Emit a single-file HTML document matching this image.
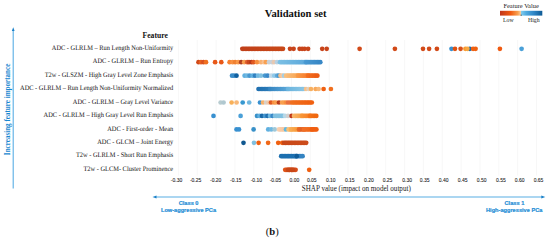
<!DOCTYPE html>
<html><head><meta charset="utf-8"><style>
html,body{margin:0;padding:0;background:#fff;width:550px;height:239px;overflow:hidden}
svg{display:block}
</style></head><body>
<svg width="550" height="239" viewBox="0 0 550 239">
<defs><linearGradient id="cb" x1="0" x2="1" y1="0" y2="0"><stop offset="0" stop-color="#c0361a"/><stop offset="0.25" stop-color="#f05a10"/><stop offset="0.42" stop-color="#f8a050"/><stop offset="0.5" stop-color="#f8d4a8"/><stop offset="0.5" stop-color="#80ccee"/><stop offset="0.62" stop-color="#50aade"/><stop offset="0.8" stop-color="#2f86c6"/><stop offset="1" stop-color="#0e5a94"/></linearGradient></defs>
<line x1="178.43" y1="40" x2="178.43" y2="175.5" stroke="#f2f2f2" stroke-width="0.6"/>
<line x1="197.28" y1="40" x2="197.28" y2="175.5" stroke="#f2f2f2" stroke-width="0.6"/>
<line x1="216.12" y1="40" x2="216.12" y2="175.5" stroke="#f2f2f2" stroke-width="0.6"/>
<line x1="234.97" y1="40" x2="234.97" y2="175.5" stroke="#f2f2f2" stroke-width="0.6"/>
<line x1="253.81" y1="40" x2="253.81" y2="175.5" stroke="#f2f2f2" stroke-width="0.6"/>
<line x1="272.65" y1="40" x2="272.65" y2="175.5" stroke="#f2f2f2" stroke-width="0.6"/>
<line x1="291.50" y1="40" x2="291.50" y2="175.5" stroke="#f2f2f2" stroke-width="0.6"/>
<line x1="310.35" y1="40" x2="310.35" y2="175.5" stroke="#f2f2f2" stroke-width="0.6"/>
<line x1="329.19" y1="40" x2="329.19" y2="175.5" stroke="#f2f2f2" stroke-width="0.6"/>
<line x1="348.03" y1="40" x2="348.03" y2="175.5" stroke="#f2f2f2" stroke-width="0.6"/>
<line x1="366.88" y1="40" x2="366.88" y2="175.5" stroke="#f2f2f2" stroke-width="0.6"/>
<line x1="385.73" y1="40" x2="385.73" y2="175.5" stroke="#f2f2f2" stroke-width="0.6"/>
<line x1="404.57" y1="40" x2="404.57" y2="175.5" stroke="#f2f2f2" stroke-width="0.6"/>
<line x1="423.41" y1="40" x2="423.41" y2="175.5" stroke="#f2f2f2" stroke-width="0.6"/>
<line x1="442.26" y1="40" x2="442.26" y2="175.5" stroke="#f2f2f2" stroke-width="0.6"/>
<line x1="461.11" y1="40" x2="461.11" y2="175.5" stroke="#f2f2f2" stroke-width="0.6"/>
<line x1="479.95" y1="40" x2="479.95" y2="175.5" stroke="#f2f2f2" stroke-width="0.6"/>
<line x1="498.80" y1="40" x2="498.80" y2="175.5" stroke="#f2f2f2" stroke-width="0.6"/>
<line x1="517.64" y1="40" x2="517.64" y2="175.5" stroke="#f2f2f2" stroke-width="0.6"/>
<line x1="536.49" y1="40" x2="536.49" y2="175.5" stroke="#f2f2f2" stroke-width="0.6"/>
<g>
<circle cx="242.30" cy="48.8" r="2.35" fill="#c0401a"/>
<circle cx="243.81" cy="48.8" r="2.35" fill="#c0401a"/>
<circle cx="245.31" cy="48.8" r="2.35" fill="#c1411a"/>
<circle cx="246.82" cy="48.8" r="2.35" fill="#c1411a"/>
<circle cx="248.33" cy="48.8" r="2.35" fill="#c1411a"/>
<circle cx="249.84" cy="48.8" r="2.35" fill="#c1411a"/>
<circle cx="251.34" cy="48.8" r="2.35" fill="#c2421a"/>
<circle cx="252.85" cy="48.8" r="2.35" fill="#c24219"/>
<circle cx="254.36" cy="48.8" r="2.35" fill="#c24219"/>
<circle cx="255.87" cy="48.8" r="2.35" fill="#c34319"/>
<circle cx="257.37" cy="48.8" r="2.35" fill="#c34319"/>
<circle cx="258.88" cy="48.8" r="2.35" fill="#c34319"/>
<circle cx="260.39" cy="48.8" r="2.35" fill="#c44419"/>
<circle cx="261.90" cy="48.8" r="2.35" fill="#c44419"/>
<circle cx="263.40" cy="48.8" r="2.35" fill="#c44419"/>
<circle cx="264.91" cy="48.8" r="2.35" fill="#c44419"/>
<circle cx="266.42" cy="48.8" r="2.35" fill="#c54519"/>
<circle cx="267.93" cy="48.8" r="2.35" fill="#c54519"/>
<circle cx="269.43" cy="48.8" r="2.35" fill="#c54519"/>
<circle cx="270.94" cy="48.8" r="2.35" fill="#c64619"/>
<circle cx="272.45" cy="48.8" r="2.35" fill="#c64619"/>
<circle cx="273.96" cy="48.8" r="2.35" fill="#c64618"/>
<circle cx="275.46" cy="48.8" r="2.35" fill="#c74718"/>
<circle cx="276.97" cy="48.8" r="2.35" fill="#c74718"/>
<circle cx="278.48" cy="48.8" r="2.35" fill="#c74718"/>
<circle cx="279.99" cy="48.8" r="2.35" fill="#c74718"/>
<circle cx="281.49" cy="48.8" r="2.35" fill="#c84818"/>
<circle cx="283.00" cy="48.8" r="2.35" fill="#c84818"/>
<circle cx="290.00" cy="48.8" r="2.35" fill="#c8441a"/>
<circle cx="293.60" cy="48.8" r="2.35" fill="#c8441a"/>
<circle cx="299.60" cy="48.8" r="2.35" fill="#c8441a"/>
<circle cx="302.10" cy="48.8" r="2.35" fill="#c8441a"/>
<circle cx="304.60" cy="48.8" r="2.35" fill="#c8441a"/>
<circle cx="308.10" cy="48.8" r="2.35" fill="#c8441a"/>
<circle cx="322.20" cy="48.8" r="2.35" fill="#c8441a"/>
<circle cx="326.70" cy="48.8" r="2.35" fill="#c8441a"/>
<circle cx="359.60" cy="48.8" r="2.35" fill="#d24a18"/>
<circle cx="394.90" cy="48.8" r="2.35" fill="#d24a18"/>
<circle cx="423.00" cy="48.8" r="2.35" fill="#d24a18"/>
<circle cx="429.10" cy="48.8" r="2.35" fill="#d24a18"/>
<circle cx="436.90" cy="48.8" r="2.35" fill="#d24a18"/>
<circle cx="451.50" cy="48.8" r="2.35" fill="#3890d0"/>
<circle cx="455.00" cy="48.8" r="2.35" fill="#e05010"/>
<circle cx="469.80" cy="48.8" r="2.35" fill="#1868a8"/>
<circle cx="460.60" cy="48.8" r="2.35" fill="#d85018"/>
<circle cx="465.40" cy="48.8" r="2.35" fill="#f89a30"/>
<circle cx="467.40" cy="48.8" r="2.35" fill="#f8a840"/>
<circle cx="473.10" cy="48.8" r="2.35" fill="#f06010"/>
<circle cx="475.60" cy="48.8" r="2.35" fill="#f06010"/>
<circle cx="499.90" cy="48.8" r="2.35" fill="#f05a10"/>
<circle cx="521.60" cy="48.8" r="2.35" fill="#4aa0d8"/>
<circle cx="198.50" cy="62.2" r="2.35" fill="#d04818"/>
<circle cx="201.00" cy="62.2" r="2.35" fill="#e86020"/>
<circle cx="203.50" cy="62.2" r="2.35" fill="#d85020"/>
<circle cx="206.00" cy="62.2" r="2.35" fill="#f07020"/>
<circle cx="215.10" cy="62.2" r="2.35" fill="#e85818"/>
<circle cx="221.30" cy="62.2" r="2.35" fill="#e85818"/>
<circle cx="229.60" cy="62.2" r="2.35" fill="#f88030"/>
<circle cx="232.60" cy="62.2" r="2.35" fill="#f89040"/>
<circle cx="235.20" cy="62.2" r="2.35" fill="#f08030"/>
<circle cx="238.20" cy="62.2" r="2.35" fill="#f89848"/>
<circle cx="241.20" cy="62.2" r="2.35" fill="#b04020"/>
<circle cx="244.20" cy="62.2" r="2.35" fill="#f8a050"/>
<circle cx="247.20" cy="62.2" r="2.35" fill="#e06030"/>
<circle cx="249.00" cy="62.2" r="2.35" fill="#c84820"/>
<circle cx="251.50" cy="62.2" r="2.35" fill="#b83818"/>
<circle cx="253.50" cy="62.2" r="2.35" fill="#e05820"/>
<circle cx="257.00" cy="62.2" r="2.35" fill="#f89040"/>
<circle cx="261.00" cy="62.2" r="2.35" fill="#f8b070"/>
<circle cx="264.00" cy="62.2" r="2.35" fill="#f8c090"/>
<circle cx="266.00" cy="62.2" r="2.35" fill="#f8a050"/>
<circle cx="269.00" cy="62.2" r="2.35" fill="#c8d0d8"/>
<circle cx="272.00" cy="62.2" r="2.35" fill="#c8d0d8"/>
<circle cx="274.00" cy="62.2" r="2.35" fill="#e8c8b0"/>
<circle cx="277.00" cy="62.2" r="2.35" fill="#b8d0e0"/>
<circle cx="280.00" cy="62.2" r="2.35" fill="#7cc0e4"/>
<circle cx="281.53" cy="62.2" r="2.35" fill="#7abfe4"/>
<circle cx="283.06" cy="62.2" r="2.35" fill="#78bde3"/>
<circle cx="284.59" cy="62.2" r="2.35" fill="#77bce3"/>
<circle cx="286.12" cy="62.2" r="2.35" fill="#75bbe2"/>
<circle cx="287.65" cy="62.2" r="2.35" fill="#73bae2"/>
<circle cx="289.18" cy="62.2" r="2.35" fill="#71b8e1"/>
<circle cx="290.71" cy="62.2" r="2.35" fill="#70b7e1"/>
<circle cx="292.24" cy="62.2" r="2.35" fill="#6eb6e0"/>
<circle cx="293.76" cy="62.2" r="2.35" fill="#6cb4e0"/>
<circle cx="295.29" cy="62.2" r="2.35" fill="#6ab3df"/>
<circle cx="296.82" cy="62.2" r="2.35" fill="#69b2df"/>
<circle cx="298.35" cy="62.2" r="2.35" fill="#67b0de"/>
<circle cx="299.88" cy="62.2" r="2.35" fill="#65afde"/>
<circle cx="301.41" cy="62.2" r="2.35" fill="#63aedd"/>
<circle cx="302.94" cy="62.2" r="2.35" fill="#62addd"/>
<circle cx="304.47" cy="62.2" r="2.35" fill="#60abdc"/>
<circle cx="306.00" cy="62.2" r="2.35" fill="#5eaadc"/>
<circle cx="306.00" cy="62.2" r="2.35" fill="#4a9ad2"/>
<circle cx="307.43" cy="62.2" r="2.35" fill="#4898d1"/>
<circle cx="308.86" cy="62.2" r="2.35" fill="#4696d0"/>
<circle cx="310.29" cy="62.2" r="2.35" fill="#4595ce"/>
<circle cx="311.72" cy="62.2" r="2.35" fill="#4393cd"/>
<circle cx="313.15" cy="62.2" r="2.35" fill="#4191cc"/>
<circle cx="314.58" cy="62.2" r="2.35" fill="#3f8fcb"/>
<circle cx="316.01" cy="62.2" r="2.35" fill="#3d8dca"/>
<circle cx="317.44" cy="62.2" r="2.35" fill="#3c8cc8"/>
<circle cx="318.87" cy="62.2" r="2.35" fill="#3a8ac7"/>
<circle cx="320.30" cy="62.2" r="2.35" fill="#3888c6"/>
<circle cx="232.00" cy="75.7" r="2.35" fill="#3a8cc8"/>
<circle cx="234.00" cy="75.7" r="2.35" fill="#3a8cc8"/>
<circle cx="236.50" cy="75.7" r="2.35" fill="#1060a0"/>
<circle cx="244.60" cy="75.7" r="2.35" fill="#60b0e0"/>
<circle cx="247.00" cy="75.7" r="2.35" fill="#70b8e0"/>
<circle cx="249.60" cy="75.7" r="2.35" fill="#4898d0"/>
<circle cx="252.60" cy="75.7" r="2.35" fill="#60b0e0"/>
<circle cx="255.00" cy="75.7" r="2.35" fill="#3080c0"/>
<circle cx="258.00" cy="75.7" r="2.35" fill="#70b8e0"/>
<circle cx="261.00" cy="75.7" r="2.35" fill="#80c0e0"/>
<circle cx="265.00" cy="75.7" r="2.35" fill="#4898d0"/>
<circle cx="267.70" cy="75.7" r="2.35" fill="#3a88c8"/>
<circle cx="271.20" cy="75.7" r="2.35" fill="#c0d8e8"/>
<circle cx="274.20" cy="75.7" r="2.35" fill="#90c8e8"/>
<circle cx="277.20" cy="75.7" r="2.35" fill="#60a8d8"/>
<circle cx="279.00" cy="75.7" r="2.35" fill="#4898d0"/>
<circle cx="280.50" cy="75.7" r="2.35" fill="#f8c088"/>
<circle cx="282.50" cy="75.7" r="2.35" fill="#f8c8a0"/>
<circle cx="284.00" cy="75.7" r="2.35" fill="#a0d0e8"/>
<circle cx="286.00" cy="75.7" r="2.35" fill="#f8c080"/>
<circle cx="287.50" cy="75.7" r="2.35" fill="#f8bd7b"/>
<circle cx="289.00" cy="75.7" r="2.35" fill="#f8ba76"/>
<circle cx="290.50" cy="75.7" r="2.35" fill="#f8b771"/>
<circle cx="292.00" cy="75.7" r="2.35" fill="#f8b46c"/>
<circle cx="293.50" cy="75.7" r="2.35" fill="#f8b167"/>
<circle cx="295.00" cy="75.7" r="2.35" fill="#f8ae62"/>
<circle cx="296.50" cy="75.7" r="2.35" fill="#f8ab5d"/>
<circle cx="298.00" cy="75.7" r="2.35" fill="#f8a858"/>
<circle cx="298.00" cy="75.7" r="2.35" fill="#f89a48"/>
<circle cx="299.43" cy="75.7" r="2.35" fill="#f89645"/>
<circle cx="300.86" cy="75.7" r="2.35" fill="#f89341"/>
<circle cx="302.29" cy="75.7" r="2.35" fill="#f88f3e"/>
<circle cx="303.71" cy="75.7" r="2.35" fill="#f88b3a"/>
<circle cx="305.14" cy="75.7" r="2.35" fill="#f88737"/>
<circle cx="306.57" cy="75.7" r="2.35" fill="#f88433"/>
<circle cx="308.00" cy="75.7" r="2.35" fill="#f88030"/>
<circle cx="308.00" cy="75.7" r="2.35" fill="#f47020"/>
<circle cx="309.57" cy="75.7" r="2.35" fill="#f36d1e"/>
<circle cx="311.13" cy="75.7" r="2.35" fill="#f1691c"/>
<circle cx="312.70" cy="75.7" r="2.35" fill="#f0661a"/>
<circle cx="314.27" cy="75.7" r="2.35" fill="#ef6318"/>
<circle cx="315.83" cy="75.7" r="2.35" fill="#ed5f16"/>
<circle cx="317.40" cy="75.7" r="2.35" fill="#ec5c14"/>
<circle cx="258.50" cy="89.0" r="2.35" fill="#2070b0"/>
<circle cx="259.94" cy="89.0" r="2.35" fill="#2171b1"/>
<circle cx="261.38" cy="89.0" r="2.35" fill="#2272b2"/>
<circle cx="262.81" cy="89.0" r="2.35" fill="#2474b3"/>
<circle cx="264.25" cy="89.0" r="2.35" fill="#2575b4"/>
<circle cx="265.69" cy="89.0" r="2.35" fill="#2676b5"/>
<circle cx="267.12" cy="89.0" r="2.35" fill="#2878b6"/>
<circle cx="268.56" cy="89.0" r="2.35" fill="#2979b7"/>
<circle cx="270.00" cy="89.0" r="2.35" fill="#2a7ab8"/>
<circle cx="270.00" cy="89.0" r="2.35" fill="#3484c0"/>
<circle cx="271.50" cy="89.0" r="2.35" fill="#3787c2"/>
<circle cx="273.00" cy="89.0" r="2.35" fill="#3a8ac4"/>
<circle cx="274.50" cy="89.0" r="2.35" fill="#3e8cc6"/>
<circle cx="276.00" cy="89.0" r="2.35" fill="#418fc8"/>
<circle cx="277.50" cy="89.0" r="2.35" fill="#4492ca"/>
<circle cx="279.00" cy="89.0" r="2.35" fill="#4795cc"/>
<circle cx="280.50" cy="89.0" r="2.35" fill="#4a98ce"/>
<circle cx="282.00" cy="89.0" r="2.35" fill="#4d9bd0"/>
<circle cx="283.50" cy="89.0" r="2.35" fill="#509ed2"/>
<circle cx="285.00" cy="89.0" r="2.35" fill="#54a0d4"/>
<circle cx="286.50" cy="89.0" r="2.35" fill="#57a3d6"/>
<circle cx="288.00" cy="89.0" r="2.35" fill="#5aa6d8"/>
<circle cx="288.00" cy="89.0" r="2.35" fill="#6ab4de"/>
<circle cx="289.45" cy="89.0" r="2.35" fill="#6db5df"/>
<circle cx="290.91" cy="89.0" r="2.35" fill="#6fb7df"/>
<circle cx="292.36" cy="89.0" r="2.35" fill="#72b8e0"/>
<circle cx="293.82" cy="89.0" r="2.35" fill="#75bae0"/>
<circle cx="295.27" cy="89.0" r="2.35" fill="#78bbe1"/>
<circle cx="296.73" cy="89.0" r="2.35" fill="#7abde1"/>
<circle cx="298.18" cy="89.0" r="2.35" fill="#7dbee2"/>
<circle cx="299.64" cy="89.0" r="2.35" fill="#80c0e2"/>
<circle cx="301.09" cy="89.0" r="2.35" fill="#83c1e3"/>
<circle cx="302.55" cy="89.0" r="2.35" fill="#85c3e3"/>
<circle cx="304.00" cy="89.0" r="2.35" fill="#88c4e4"/>
<circle cx="306.00" cy="89.0" r="2.35" fill="#f8c088"/>
<circle cx="308.50" cy="89.0" r="2.35" fill="#e0d0c0"/>
<circle cx="311.00" cy="89.0" r="2.35" fill="#f8b060"/>
<circle cx="315.60" cy="89.0" r="2.35" fill="#f8a858"/>
<circle cx="318.60" cy="89.0" r="2.35" fill="#f8b878"/>
<circle cx="323.60" cy="89.0" r="2.35" fill="#f06010"/>
<circle cx="330.90" cy="89.0" r="2.35" fill="#f07020"/>
<circle cx="220.60" cy="102.5" r="2.35" fill="#b8ccd0"/>
<circle cx="223.60" cy="102.5" r="2.35" fill="#b0c8d0"/>
<circle cx="231.60" cy="102.5" r="2.35" fill="#f8b058"/>
<circle cx="236.60" cy="102.5" r="2.35" fill="#f8b878"/>
<circle cx="242.70" cy="102.5" r="2.35" fill="#3898d0"/>
<circle cx="249.20" cy="102.5" r="2.35" fill="#70b8e0"/>
<circle cx="260.00" cy="102.5" r="2.35" fill="#3890d0"/>
<circle cx="263.00" cy="102.5" r="2.35" fill="#f8b068"/>
<circle cx="266.00" cy="102.5" r="2.35" fill="#d8d0c8"/>
<circle cx="268.60" cy="102.5" r="2.35" fill="#f0c8a8"/>
<circle cx="271.00" cy="102.5" r="2.35" fill="#e05820"/>
<circle cx="274.00" cy="102.5" r="2.35" fill="#f89040"/>
<circle cx="276.00" cy="102.5" r="2.35" fill="#f8a050"/>
<circle cx="279.00" cy="102.5" r="2.35" fill="#b83818"/>
<circle cx="282.00" cy="102.5" r="2.35" fill="#f8a050"/>
<circle cx="284.00" cy="102.5" r="2.35" fill="#f8a050"/>
<circle cx="286.00" cy="102.5" r="2.35" fill="#f89040"/>
<circle cx="288.00" cy="102.5" r="2.35" fill="#e87040"/>
<circle cx="290.00" cy="102.5" r="2.35" fill="#e87040"/>
<circle cx="292.00" cy="102.5" r="2.35" fill="#f07020"/>
<circle cx="293.52" cy="102.5" r="2.35" fill="#f06f1f"/>
<circle cx="295.05" cy="102.5" r="2.35" fill="#f06e1e"/>
<circle cx="296.57" cy="102.5" r="2.35" fill="#f06c1c"/>
<circle cx="298.09" cy="102.5" r="2.35" fill="#f06b1b"/>
<circle cx="299.62" cy="102.5" r="2.35" fill="#f06a1a"/>
<circle cx="301.14" cy="102.5" r="2.35" fill="#f06919"/>
<circle cx="302.66" cy="102.5" r="2.35" fill="#f06717"/>
<circle cx="304.18" cy="102.5" r="2.35" fill="#f06616"/>
<circle cx="305.71" cy="102.5" r="2.35" fill="#f06515"/>
<circle cx="307.23" cy="102.5" r="2.35" fill="#f06414"/>
<circle cx="308.75" cy="102.5" r="2.35" fill="#f06212"/>
<circle cx="310.28" cy="102.5" r="2.35" fill="#f06111"/>
<circle cx="311.80" cy="102.5" r="2.35" fill="#f06010"/>
<circle cx="213.50" cy="115.9" r="2.35" fill="#3890d0"/>
<circle cx="240.60" cy="115.9" r="2.35" fill="#4aa0d8"/>
<circle cx="257.00" cy="115.9" r="2.35" fill="#3890c8"/>
<circle cx="259.50" cy="115.9" r="2.35" fill="#60b0e0"/>
<circle cx="262.00" cy="115.9" r="2.35" fill="#1868a8"/>
<circle cx="265.00" cy="115.9" r="2.35" fill="#4898d0"/>
<circle cx="267.50" cy="115.9" r="2.35" fill="#2070b0"/>
<circle cx="270.00" cy="115.9" r="2.35" fill="#70b8e0"/>
<circle cx="272.60" cy="115.9" r="2.35" fill="#3888c8"/>
<circle cx="275.00" cy="115.9" r="2.35" fill="#80c0e0"/>
<circle cx="276.60" cy="115.9" r="2.35" fill="#80c0e0"/>
<circle cx="278.20" cy="115.9" r="2.35" fill="#80c0e0"/>
<circle cx="279.80" cy="115.9" r="2.35" fill="#80c0e0"/>
<circle cx="281.40" cy="115.9" r="2.35" fill="#80c0e0"/>
<circle cx="283.00" cy="115.9" r="2.35" fill="#80c0e0"/>
<circle cx="285.00" cy="115.9" r="2.35" fill="#b8d8e8"/>
<circle cx="288.00" cy="115.9" r="2.35" fill="#d0d0d0"/>
<circle cx="291.60" cy="115.9" r="2.35" fill="#c03818"/>
<circle cx="294.00" cy="115.9" r="2.35" fill="#f8b868"/>
<circle cx="295.60" cy="115.9" r="2.35" fill="#f8b362"/>
<circle cx="297.20" cy="115.9" r="2.35" fill="#f8ae5b"/>
<circle cx="298.80" cy="115.9" r="2.35" fill="#f8aa55"/>
<circle cx="300.40" cy="115.9" r="2.35" fill="#f8a54e"/>
<circle cx="302.00" cy="115.9" r="2.35" fill="#f8a048"/>
<circle cx="302.00" cy="115.9" r="2.35" fill="#f89838"/>
<circle cx="303.60" cy="115.9" r="2.35" fill="#f89335"/>
<circle cx="305.20" cy="115.9" r="2.35" fill="#f88e32"/>
<circle cx="306.80" cy="115.9" r="2.35" fill="#f88a2e"/>
<circle cx="308.40" cy="115.9" r="2.35" fill="#f8852b"/>
<circle cx="310.00" cy="115.9" r="2.35" fill="#f88028"/>
<circle cx="310.00" cy="115.9" r="2.35" fill="#f47418"/>
<circle cx="311.57" cy="115.9" r="2.35" fill="#f37116"/>
<circle cx="313.15" cy="115.9" r="2.35" fill="#f26e14"/>
<circle cx="314.73" cy="115.9" r="2.35" fill="#f16b12"/>
<circle cx="316.30" cy="115.9" r="2.35" fill="#f06810"/>
<circle cx="236.50" cy="129.4" r="2.35" fill="#3890d0"/>
<circle cx="239.00" cy="129.4" r="2.35" fill="#3890d0"/>
<circle cx="253.60" cy="129.4" r="2.35" fill="#3890c8"/>
<circle cx="268.20" cy="129.4" r="2.35" fill="#60b0e0"/>
<circle cx="271.20" cy="129.4" r="2.35" fill="#70b8e0"/>
<circle cx="274.70" cy="129.4" r="2.35" fill="#a0c8d8"/>
<circle cx="279.00" cy="129.4" r="2.35" fill="#f8d0b0"/>
<circle cx="280.67" cy="129.4" r="2.35" fill="#f8cdab"/>
<circle cx="282.33" cy="129.4" r="2.35" fill="#f8cba5"/>
<circle cx="284.00" cy="129.4" r="2.35" fill="#f8c8a0"/>
<circle cx="286.00" cy="129.4" r="2.35" fill="#60b8e0"/>
<circle cx="288.50" cy="129.4" r="2.35" fill="#f8c078"/>
<circle cx="289.75" cy="129.4" r="2.35" fill="#f8c078"/>
<circle cx="291.00" cy="129.4" r="2.35" fill="#f8c078"/>
<circle cx="291.00" cy="129.4" r="2.35" fill="#f8b058"/>
<circle cx="292.60" cy="129.4" r="2.35" fill="#f8ab52"/>
<circle cx="294.20" cy="129.4" r="2.35" fill="#f8a64b"/>
<circle cx="295.80" cy="129.4" r="2.35" fill="#f8a245"/>
<circle cx="297.40" cy="129.4" r="2.35" fill="#f89d3e"/>
<circle cx="299.00" cy="129.4" r="2.35" fill="#f89838"/>
<circle cx="299.00" cy="129.4" r="2.35" fill="#e86828"/>
<circle cx="300.67" cy="129.4" r="2.35" fill="#e56525"/>
<circle cx="302.33" cy="129.4" r="2.35" fill="#e36323"/>
<circle cx="304.00" cy="129.4" r="2.35" fill="#e06020"/>
<circle cx="304.00" cy="129.4" r="2.35" fill="#f07028"/>
<circle cx="305.60" cy="129.4" r="2.35" fill="#f06e25"/>
<circle cx="307.20" cy="129.4" r="2.35" fill="#f06d22"/>
<circle cx="308.80" cy="129.4" r="2.35" fill="#f06b1e"/>
<circle cx="310.40" cy="129.4" r="2.35" fill="#f06a1b"/>
<circle cx="312.00" cy="129.4" r="2.35" fill="#f06818"/>
<circle cx="312.00" cy="129.4" r="2.35" fill="#f05e10"/>
<circle cx="313.47" cy="129.4" r="2.35" fill="#f05e10"/>
<circle cx="314.93" cy="129.4" r="2.35" fill="#f05e10"/>
<circle cx="316.40" cy="129.4" r="2.35" fill="#f05e10"/>
<circle cx="243.50" cy="142.8" r="2.35" fill="#105890"/>
<circle cx="254.00" cy="142.8" r="2.35" fill="#80c0e0"/>
<circle cx="258.60" cy="142.8" r="2.35" fill="#f06010"/>
<circle cx="268.10" cy="142.8" r="2.35" fill="#f06818"/>
<circle cx="278.20" cy="142.8" r="2.35" fill="#f06010"/>
<circle cx="282.20" cy="142.8" r="2.35" fill="#f06010"/>
<circle cx="284.00" cy="142.8" r="2.35" fill="#c84818"/>
<circle cx="285.48" cy="142.8" r="2.35" fill="#c84818"/>
<circle cx="286.96" cy="142.8" r="2.35" fill="#c94919"/>
<circle cx="288.44" cy="142.8" r="2.35" fill="#c94919"/>
<circle cx="289.92" cy="142.8" r="2.35" fill="#c94919"/>
<circle cx="291.40" cy="142.8" r="2.35" fill="#c94919"/>
<circle cx="292.88" cy="142.8" r="2.35" fill="#ca4a1a"/>
<circle cx="294.36" cy="142.8" r="2.35" fill="#ca4a1a"/>
<circle cx="295.84" cy="142.8" r="2.35" fill="#ca4a1a"/>
<circle cx="297.32" cy="142.8" r="2.35" fill="#ca4a1a"/>
<circle cx="298.80" cy="142.8" r="2.35" fill="#cb4b1b"/>
<circle cx="300.28" cy="142.8" r="2.35" fill="#cb4b1b"/>
<circle cx="301.76" cy="142.8" r="2.35" fill="#cb4b1b"/>
<circle cx="303.24" cy="142.8" r="2.35" fill="#cb4b1b"/>
<circle cx="304.72" cy="142.8" r="2.35" fill="#cc4c1c"/>
<circle cx="306.20" cy="142.8" r="2.35" fill="#cc4c1c"/>
<circle cx="281.20" cy="156.2" r="2.35" fill="#1c70b0"/>
<circle cx="282.68" cy="156.2" r="2.35" fill="#1c70b0"/>
<circle cx="284.16" cy="156.2" r="2.35" fill="#1c70b0"/>
<circle cx="285.64" cy="156.2" r="2.35" fill="#1c70b0"/>
<circle cx="287.12" cy="156.2" r="2.35" fill="#1c70b0"/>
<circle cx="288.60" cy="156.2" r="2.35" fill="#1c70b0"/>
<circle cx="290.08" cy="156.2" r="2.35" fill="#1c70b0"/>
<circle cx="291.56" cy="156.2" r="2.35" fill="#1c70b0"/>
<circle cx="293.04" cy="156.2" r="2.35" fill="#1c70b0"/>
<circle cx="294.52" cy="156.2" r="2.35" fill="#1c70b0"/>
<circle cx="296.00" cy="156.2" r="2.35" fill="#1c70b0"/>
<circle cx="296.00" cy="156.2" r="2.35" fill="#2a7aba"/>
<circle cx="297.65" cy="156.2" r="2.35" fill="#2c7cbc"/>
<circle cx="299.30" cy="156.2" r="2.35" fill="#2f7fbe"/>
<circle cx="300.95" cy="156.2" r="2.35" fill="#3282c0"/>
<circle cx="302.60" cy="156.2" r="2.35" fill="#3484c2"/>
<circle cx="296.70" cy="156.2" r="2.35" fill="#105c98"/>
<circle cx="285.20" cy="169.8" r="2.35" fill="#e05418"/>
<circle cx="286.69" cy="169.8" r="2.35" fill="#df5318"/>
<circle cx="288.17" cy="169.8" r="2.35" fill="#de5218"/>
<circle cx="289.66" cy="169.8" r="2.35" fill="#dd5118"/>
<circle cx="291.14" cy="169.8" r="2.35" fill="#db4f18"/>
<circle cx="292.63" cy="169.8" r="2.35" fill="#da4e18"/>
<circle cx="294.11" cy="169.8" r="2.35" fill="#d94d18"/>
<circle cx="295.60" cy="169.8" r="2.35" fill="#d84c18"/>
<circle cx="288.00" cy="169.8" r="2.35" fill="#c84818"/>
<circle cx="289.67" cy="169.8" r="2.35" fill="#c84818"/>
<circle cx="291.33" cy="169.8" r="2.35" fill="#c84818"/>
<circle cx="293.00" cy="169.8" r="2.35" fill="#c84818"/>
<circle cx="309.20" cy="169.8" r="2.35" fill="#f06010"/>
</g>
<g font-family="Liberation Serif" font-size="6.4" fill="#111" text-rendering="geometricPrecision" text-anchor="end">
<text transform="translate(173.2,49.90) scale(1,1.08)">ADC - GLRLM – Run Length Non-Uniformity</text>
<text transform="translate(173.2,63.30) scale(1,1.08)">ADC - GLRLM – Run Entropy</text>
<text transform="translate(173.2,76.80) scale(1,1.08)">T2w - GLSZM - High Gray Level Zone Emphasis</text>
<text transform="translate(173.2,90.10) scale(1,1.08)">ADC - GLRLM – Run Length Non-Uniformity Normalized</text>
<text transform="translate(173.2,103.60) scale(1,1.08)">ADC - GLRLM – Gray Level Variance</text>
<text transform="translate(173.2,117.00) scale(1,1.08)">ADC - GLRLM – High Gray Level Run Emphasis</text>
<text transform="translate(173.2,130.50) scale(1,1.08)">ADC - First-order - Mean</text>
<text transform="translate(173.2,143.90) scale(1,1.08)">ADC - GLCM – Joint Energy</text>
<text transform="translate(173.2,157.30) scale(1,1.08)">T2w - GLRLM - Short Run Emphasis</text>
<text transform="translate(173.2,170.90) scale(1,1.08)">T2w - GLCM- Cluster Prominence</text>
</g>
<text transform="translate(264.8,16.7) scale(1,1.05)" font-family="Liberation Serif" font-weight="bold" font-size="10.6" fill="#111">Validation set</text>
<text x="142.6" y="37.5" font-family="Liberation Serif" font-weight="bold" font-size="7.6" fill="#111">Feature</text>
<text transform="translate(9.7,109.4) rotate(-90) scale(1,1.08)" text-anchor="middle" font-family="Liberation Serif" font-weight="bold" font-size="7.1" fill="#1a88d0">Increasing feature importance</text>
<g font-family="Liberation Sans" font-size="5" fill="#222" stroke="#222" stroke-width="0.08" text-anchor="middle">
<text x="176.50" y="181.9">-0.30</text>
<text x="195.60" y="181.9">-0.25</text>
<text x="215.70" y="181.9">-0.20</text>
<text x="235.80" y="181.9">-0.15</text>
<text x="256.40" y="181.9">-0.10</text>
<text x="275.40" y="181.9">-0.05</text>
<text x="294.40" y="181.9">0.00</text>
<text x="311.80" y="181.9">0.05</text>
<text x="330.80" y="181.9">0.10</text>
<text x="349.80" y="181.9">0.15</text>
<text x="368.90" y="181.9">0.20</text>
<text x="387.50" y="181.9">0.25</text>
<text x="407.20" y="181.9">0.30</text>
<text x="424.60" y="181.9">0.35</text>
<text x="443.70" y="181.9">0.40</text>
<text x="462.60" y="181.9">0.45</text>
<text x="481.70" y="181.9">0.50</text>
<text x="500.90" y="181.9">0.55</text>
<text x="519.60" y="181.9">0.60</text>
<text x="538.50" y="181.9">0.65</text>
</g>
<text transform="translate(301.8,190.8) scale(1,1.2)" font-family="Liberation Serif" font-size="7.1" fill="#1a1a1a">SHAP value (impact on model output)</text>
<line x1="13.2" y1="30" x2="13.2" y2="188.5" stroke="#58aee4" stroke-width="1.1"/>
<path d="M13.2 27.2 L14.6 31 L11.8 31 Z" fill="#1a80c8"/>
<line x1="155" y1="197" x2="542" y2="197" stroke="#58aee4" stroke-width="1.1"/>
<path d="M152.5 197 L156.5 195.6 L156.5 198.4 Z" fill="#1a80c8"/>
<path d="M545.3 197 L541.3 195.6 L541.3 198.4 Z" fill="#1a80c8"/>
<g font-family="Liberation Sans" font-weight="bold" font-size="5.65" fill="#1f8ed6" stroke="#1f8ed6" stroke-width="0.2" text-anchor="middle">
<text transform="translate(188.6,204.8) scale(1,1.1)">Class 0</text><text transform="translate(188.5,211.6) scale(1,1.1)">Low-aggressive PCa</text>
<text transform="translate(514.4,204.8) scale(1,1.1)">Class 1</text><text transform="translate(514.2,211.6) scale(1,1.1)">High-aggressive PCa</text>
</g>
<text transform="translate(503.4,8.3) scale(1,1.1)" font-family="Liberation Serif" font-size="6.45" fill="#222">Feature Value</text>
<rect x="500" y="10.8" width="42.3" height="4.8" fill="url(#cb)"/>
<rect x="520.7" y="14.6" width="0.8" height="1.3" fill="#333"/>
<text transform="translate(503,21.8) scale(1,1.05)" font-family="Liberation Serif" font-size="5.8" fill="#222">Low</text>
<text transform="translate(539.6,21.8) scale(1,1.05)" text-anchor="end" font-family="Liberation Serif" font-size="5.8" fill="#222">High</text>
<text x="265.7" y="235" font-family="Liberation Serif" font-size="10.6" fill="#111">(<tspan font-weight="bold">b</tspan>)</text>
</svg>
</body></html>
